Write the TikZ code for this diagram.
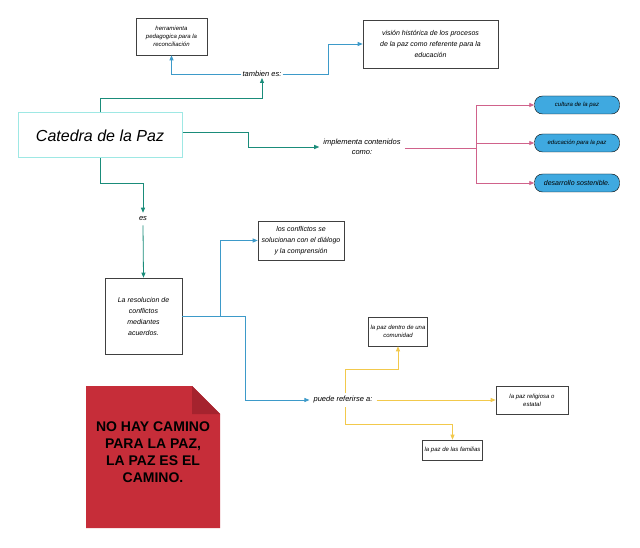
\documentclass[tikz,border=0pt]{standalone}
\usepackage{fontspec}
\setmainfont{Liberation Sans}
\usetikzlibrary{arrows.meta}
\definecolor{teal1}{HTML}{1A8C7A}
\definecolor{blue1}{HTML}{3D9AC9}
\definecolor{pink1}{HTML}{D0628B}
\definecolor{yel1}{HTML}{F2C94C}
\definecolor{ellf}{HTML}{3FA9E0}
\definecolor{redn}{HTML}{C62D39}
\definecolor{redd}{HTML}{A5232E}
\begin{document}
\begin{tikzpicture}[x=1pt,y=-1pt,
 box/.style={draw=black!75,fill=white,line width=0.6pt,align=center,font=\itshape\fontsize{6}{8}\selectfont,inner sep=2pt},
 lab/.style={align=center,font=\itshape\fontsize{7.5}{10}\selectfont,fill=white,inner sep=1pt},
 pill/.style={draw=black,fill=ellf,rounded corners=8pt,minimum width=85pt,minimum height=18pt,font=\itshape\fontsize{6}{8}\selectfont,inner sep=1pt},
 tl/.style={teal1,line width=0.8pt},
 bl/.style={blue1,line width=0.8pt},
 pk/.style={pink1,line width=0.8pt},
 yl/.style={yel1,line width=0.8pt},
 ar/.style={-{Triangle[length=5pt,width=4pt]}}]
\useasboundingbox (0,0) rectangle (640,548);
\fill[white] (0,0) rectangle (640,548);
% nodes
\node[box,minimum width=71pt,minimum height=37pt] (herr) at (171.5,36.5) {herramienta\\pedagogica para la\\reconciliación};
\node[box,minimum width=135pt,minimum height=48pt,font=\itshape\fontsize{7}{11}\selectfont] (vis) at (430.5,44) {visión histórica de los procesos\\de la paz como referente para la\\educación};
\node[lab] (tam) at (262,74) {tambien es:};
\node[draw=teal1!50!cyan!40,line width=1pt,fill=white,minimum width=164pt,minimum height=45pt,font=\itshape\fontsize{16}{18}\selectfont] (cat) at (100,135.5) {Catedra de la Paz};
\node[lab,inner xsep=4pt] (imp) at (362,147) {implementa contenidos\\como:};
\node[pill] (e1) at (577,105) {cultura de la paz};
\node[pill] (e2) at (577,143) {educación para la paz};
\node[pill,font=\itshape\fontsize{7}{8}\selectfont] (e3) at (577,183) {desarrollo sostenible.};
\node[lab,inner sep=4pt] (es) at (143,219) {es};
\node[box,minimum width=77pt,minimum height=76pt,font=\itshape\fontsize{7}{11}\selectfont] (res) at (143.5,316) {La resolucion de\\conflictos\\mediantes\\acuerdos.};
\node[box,minimum width=86pt,minimum height=39pt,font=\itshape\fontsize{7}{11}\selectfont] (con) at (301,240.5) {los conflictos se\\solucionan con el diálogo\\y la comprensión};
\node[lab,inner xsep=4pt] (pue) at (343,400) {puede referirse a:};
\node[box,minimum width=52pt,minimum height=29pt] (com) at (398,331.5) {la paz dentro de una\\comunidad};
\node[box,minimum width=72pt,minimum height=28pt] (rel) at (532,400) {la paz religiosa o\\estatal};
\node[box,minimum width=51pt,minimum height=20pt] (fam) at (452.5,450) {la paz de las familias};
% edges
\draw[bl,ar] (tam.west) -| (herr.south);
\draw[bl,ar] (tam.east) -- (328,74) |- (vis.west);
\draw[tl,ar] (cat.north) -- (100,98) -| (tam.south);
\draw[tl,ar] (cat.east |- 0,132) -- (248,132) |- (imp.west);
\draw[pk] (imp.east |- 0,148) -- (476,148);
\draw[pk,ar] (476,148) |- (e1.west);
\draw[pk,ar] (476,148) |- (e2.west);
\draw[pk,ar] (476,148) |- (e3.west);
\draw[tl,ar] (cat.south) -- (100,183) -- (143,183) -- (es.north);
\draw[tl,ar] (es.south) -- (res.north);
\draw[bl,ar] (res.east) -- (220,316) |- (con.west);
\draw[bl,ar] (res.east) -- (245,316) |- (pue.west);
\draw[yl,ar] (345,393) -- (345,369) -| (com.south);
\draw[yl,ar] (pue.east) -- (rel.west);
\draw[yl,ar] (345,407) -- (345,424) -| (fam.north);
% note
\fill[redn] (86,386) -- (192,386) -- (220,414) -- (220,528) -- (86,528) -- cycle;
\fill[redd] (192,386) -- (192,414) -- (220,414) -- cycle;
\node[font=\bfseries\fontsize{14}{17}\selectfont,align=center] (note) at (153,452) {NO HAY CAMINO\\PARA LA PAZ,\\LA PAZ ES EL\\CAMINO.};
\end{tikzpicture}
\end{document}
